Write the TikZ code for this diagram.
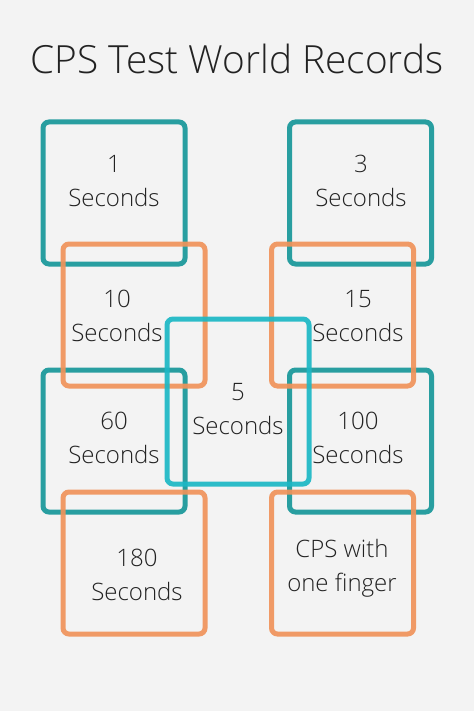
\documentclass[tikz,border=0pt]{standalone}
\usepackage{fontspec}
\setmainfont{Open Sans Light}
\usepackage{xcolor}
\definecolor{bgcolor}{HTML}{F3F3F3}
\definecolor{tealcolor}{HTML}{17979A}
\definecolor{orangecolor}{HTML}{F0935A}
\definecolor{cyancolor}{HTML}{1CB8C5}
\definecolor{inkcolor}{HTML}{222222}

\begin{document}
\begin{tikzpicture}[x=1pt, y=-1pt, every node/.style={text=inkcolor}, box/.style={draw, line width=5pt, rounded corners=6pt, minimum width=142pt, minimum height=142pt, inner sep=0pt, opacity=0.92}, label/.style={align=center, font=\fontsize{24}{34}\selectfont}]
    \fill[bgcolor] (0,0) rectangle (474,711);
    \node[font=\fontsize{38.8}{40}\selectfont] (title) at (237,59) {CPS Test World Records};
    % teal boxes
    \node[box, draw=tealcolor] (one) at (114,193) {};
    \node[box, draw=tealcolor] (three) at (360.5,193) {};
    \node[box, draw=tealcolor] (sixty) at (114,441) {};
    \node[box, draw=tealcolor] (hundred) at (360.5,441) {};
    % orange boxes
    \node[box, draw=orangecolor] (ten) at (134,315) {};
    \node[box, draw=orangecolor] (fifteen) at (342.5,315) {};
    \node[box, draw=orangecolor] (oneeighty) at (134,563) {};
    \node[box, draw=orangecolor] (finger) at (342.5,563) {};
    % middle box
    \node[box, draw=cyancolor, minimum height=165pt] (five) at (238,401.5) {};
    \node[label] (onetxt) at (114,181) {1\\Seconds};
    \node[label] (threetxt) at (361,181) {3\\Seconds};
    \node[label] (tentxt) at (117,316) {10\\Seconds};
    \node[label] (fifteentxt) at (358,316) {15\\Seconds};
    \node[label] (fivetxt) at (238,409) {5\\Seconds};
    \node[label] (sixtytxt) at (114,438) {60\\Seconds};
    \node[label] (hundredtxt) at (358,438) {100\\Seconds};
    \node[label] (oneeightytxt) at (137,575) {180\\Seconds};
    \node[label] (fingertxt) at (342,568) {CPS with\\one finger};
  \end{tikzpicture}
\end{document}
